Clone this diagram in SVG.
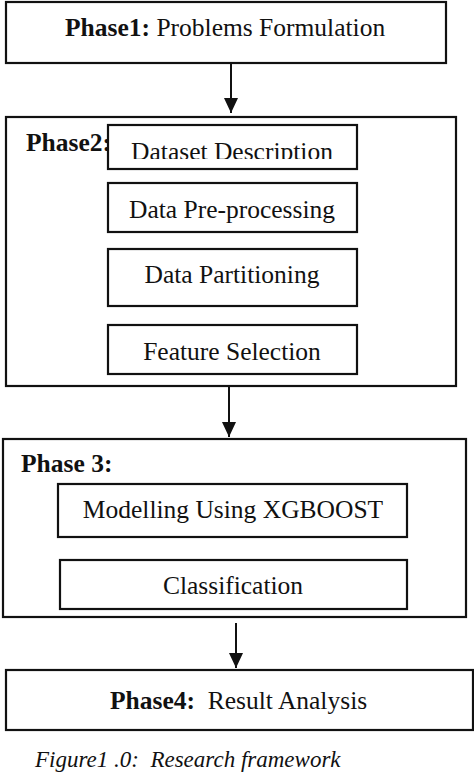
<svg xmlns="http://www.w3.org/2000/svg" width="474" height="778" viewBox="0 0 474 778">
<style>
.box{fill:#fff;stroke:#111;stroke-width:2.2}
.t{font-family:"Liberation Serif","Times New Roman","DejaVu Serif",serif;font-size:25.5px;fill:#111}
.b{font-weight:bold}
.c{text-anchor:middle}
.ln{stroke:#111;stroke-width:2;fill:none}
</style>
<defs>
<marker id="ah" markerWidth="15" markerHeight="14" refX="15" refY="7" orient="auto" markerUnits="userSpaceOnUse" viewBox="0 0 15 14">
<path d="M0,0 L15,7 L0,14 Z" fill="#111"/>
</marker>
<clipPath id="clipDD"><rect x="109" y="126" width="247" height="33"/></clipPath>
</defs>
<rect width="474" height="778" fill="#fff"/>
<g id="phase1">
<rect class="box" x="6" y="2" width="440" height="61"/>
<text class="t" x="65" y="36" xml:space="preserve"><tspan class="b">Phase1:</tspan> Problems Formulation</text>
</g>
<g id="phase2">
<rect class="box" x="6" y="117" width="450" height="269"/>
<text class="t b" x="26" y="151">Phase2:</text>
</g>
<g id="dataset-description">
<rect class="box" x="108" y="125" width="249" height="44"/>
<text class="t c" x="232" y="160" clip-path="url(#clipDD)">Dataset Description</text>
</g>
<g id="data-preprocessing">
<rect class="box" x="108" y="183" width="249" height="49"/>
<text class="t c" x="232" y="218">Data Pre-processing</text>
</g>
<g id="data-partitioning">
<rect class="box" x="108" y="249" width="249" height="57"/>
<text class="t c" x="232" y="283">Data Partitioning</text>
</g>
<g id="feature-selection">
<rect class="box" x="108" y="325" width="249" height="49"/>
<text class="t c" x="232" y="360">Feature Selection</text>
</g>
<g id="phase3">
<rect class="box" x="3" y="439" width="463" height="178"/>
<text class="t b" x="21" y="472">Phase 3:</text>
</g>
<g id="modelling">
<rect class="box" x="58" y="484" width="349" height="53"/>
<text class="t c" x="233" y="518">Modelling Using XGBOOST</text>
</g>
<g id="classification">
<rect class="box" x="60" y="560" width="347" height="49"/>
<text class="t c" x="233" y="594">Classification</text>
</g>
<g id="phase4">
<rect class="box" x="6" y="670" width="467" height="60"/>
<text class="t" x="110" y="709" xml:space="preserve"><tspan class="b">Phase4:</tspan>  Result Analysis</text>
</g>
<g id="connectors">
<line class="ln" x1="231" y1="64" x2="231" y2="113" marker-end="url(#ah)"/>
<line class="ln" x1="229" y1="387" x2="229" y2="437" marker-end="url(#ah)"/>
<line class="ln" x1="236" y1="623" x2="236" y2="668" marker-end="url(#ah)"/>
</g>
<text id="caption" x="35" y="767" font-family="'Liberation Serif','Times New Roman',serif" font-style="italic" font-size="23" fill="#111" xml:space="preserve">Figure1 .0:  Research framework</text>
</svg>
